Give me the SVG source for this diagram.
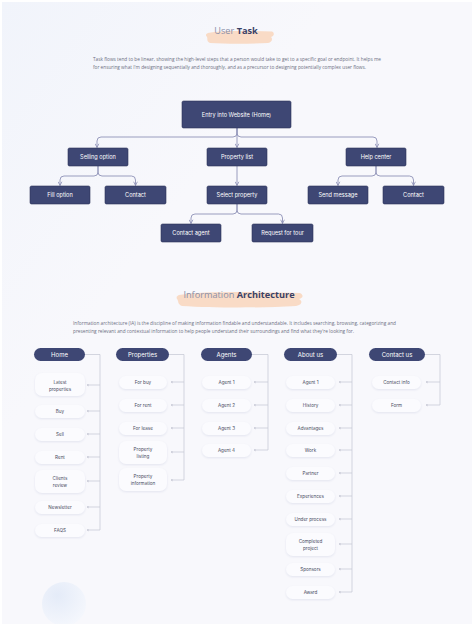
<svg xmlns="http://www.w3.org/2000/svg" width="474" height="631" viewBox="0 0 474 631">
<defs>
<linearGradient id="bg" x1="0" y1="0" x2="1" y2="1">
<stop offset="0" stop-color="#f1f4fb"/>
<stop offset="0.35" stop-color="#f8f8fc"/>
<stop offset="1" stop-color="#f8f8fc"/>
</linearGradient>
<radialGradient id="orb" cx="0.35" cy="0.3" r="0.8">
<stop offset="0" stop-color="#e4ebf8"/>
<stop offset="1" stop-color="#f6f8fd"/>
</radialGradient>
<clipPath id="card"><rect x="2" y="2" width="470" height="622"/></clipPath>
<marker id="arr" viewBox="0 0 8 8" refX="7" refY="4" markerWidth="5" markerHeight="5" markerUnits="userSpaceOnUse" orient="auto">
<path d="M1,1 L7,4 L1,7" fill="none" stroke="#8f92b8" stroke-width="1.3"/>
</marker>
<marker id="tip" viewBox="0 0 6 6" refX="5" refY="3" markerWidth="3" markerHeight="3" markerUnits="userSpaceOnUse" orient="auto">
<path d="M1,1 L5,3 L1,5" fill="none" stroke="#b9bccb" stroke-width="1"/>
</marker>
<filter id="sh" x="-20%" y="-30%" width="140%" height="170%">
<feDropShadow dx="0" dy="1" stdDeviation="1.2" flood-color="#c9cde0" flood-opacity="0.45"/>
</filter>
</defs>
<style>
.node{fill:#3e4774;stroke:#2c3359;stroke-width:0.6}
.nt{font-family:Inter,"Noto Sans",sans-serif;font-size:5.6px;fill:#ffffff;text-anchor:middle}
.pill{fill:#3e4774}
.pt{font-family:Inter,"Noto Sans",sans-serif;font-size:6px;fill:#ffffff;text-anchor:middle}
.item{fill:#fbfbfe;filter:url(#sh)}
.it{font-family:Inter,"Noto Sans",sans-serif;font-size:4.6px;fill:#4a4d5e;text-anchor:middle}
.conn{fill:none;stroke:#8f92b8;stroke-width:0.9}
.br{fill:none;stroke:#c3c6d3;stroke-width:0.7}
.tk{fill:none;stroke:#c3c6d3;stroke-width:0.7;marker-end:url(#tip)}
.para{font-family:"Open Sans","Noto Sans",sans-serif;font-size:4.6px;fill:#6c6f82}
.t1{font-family:"Open Sans","Noto Sans",sans-serif;font-size:9.2px;text-anchor:middle}
</style>
<rect width="474" height="631" fill="#ffffff"/>
<rect x="2" y="2" width="470" height="622" fill="url(#bg)"/>
<circle cx="64" cy="604" r="22" fill="url(#orb)" clip-path="url(#card)"/>

<g id="title-user-task">
<path d="M208,33 C222,30 250,31 272,31.5 C275,33 274,36 271,37 C273,39 272,42 268,43 C248,44 226,44 210,43 C206,41 208,39 207,37 C205,35 206,34 208,33 Z" fill="#f9d6bc" opacity="0.85"/>
<text class="t1" x="236" y="33.5"><tspan fill="#8b8fa8">User </tspan><tspan fill="#3a4166" font-weight="700">Task</tspan></text>
<text class="para" x="93" y="60.5" textLength="288" lengthAdjust="spacingAndGlyphs">Task flows tend to be linear, showing the high-level steps that a person would take to get to a specific goal or endpoint. It helps me</text>
<text class="para" x="93" y="68.5" textLength="273" lengthAdjust="spacingAndGlyphs">for ensuring what I'm designing sequentially and thoroughly, and as a precursor to designing potentially complex user flows.</text>
</g>

<g id="task-connectors">
<path class="conn" d="M237,128 V133 Q237,137 233,137 H101 Q97,137 97,141 V147.5" marker-end="url(#arr)"/>
<path class="conn" d="M237,128 V133 Q237,137 241,137 H373 Q377,137 377,141 V147.5" marker-end="url(#arr)"/>
<path class="conn" d="M237,128 V147.5" marker-end="url(#arr)"/>
<path class="conn" d="M98,166 V172 Q98,176 94,176 H64 Q60,176 60,180 V185.5" marker-end="url(#arr)"/>
<path class="conn" d="M98,166 V172 Q98,176 102,176 H131.5 Q135.5,176 135.5,180 V185.5" marker-end="url(#arr)"/>
<path class="conn" d="M237,166 V185.5" marker-end="url(#arr)"/>
<path class="conn" d="M376,166 V172 Q376,176 372,176 H342 Q338,176 338,180 V185.5" marker-end="url(#arr)"/>
<path class="conn" d="M376,166 V172 Q376,176 380,176 H409.5 Q413.5,176 413.5,180 V185.5" marker-end="url(#arr)"/>
<path class="conn" d="M237,204 V210 Q237,214 233,214 H195 Q191,214 191,218 V223.5" marker-end="url(#arr)"/>
<path class="conn" d="M237,204 V210 Q237,214 241,214 H278.5 Q282.5,214 282.5,218 V223.5" marker-end="url(#arr)"/>
</g>

<g id="n-entry"><rect class="node" x="182" y="101" width="109" height="27" rx="1.5"/><text class="nt" x="236.5" y="116.5">Entry into Website (Home)</text></g>
<g id="n-selling"><rect class="node" x="68" y="148" width="60" height="18" rx="1.5"/><text class="nt" x="98" y="159">Selling option</text></g>
<g id="n-proplist"><rect class="node" x="207" y="148" width="60" height="18" rx="1.5"/><text class="nt" x="237" y="159">Property list</text></g>
<g id="n-help"><rect class="node" x="346" y="148" width="60" height="18" rx="1.5"/><text class="nt" x="376" y="159">Help center</text></g>
<g id="n-fill"><rect class="node" x="30" y="186" width="60" height="18" rx="1.5"/><text class="nt" x="60" y="197">Fill option</text></g>
<g id="n-contact1"><rect class="node" x="105" y="186" width="61" height="18" rx="1.5"/><text class="nt" x="135.5" y="197">Contact</text></g>
<g id="n-select"><rect class="node" x="207" y="186" width="60" height="18" rx="1.5"/><text class="nt" x="237" y="197">Select property</text></g>
<g id="n-send"><rect class="node" x="308" y="186" width="60" height="18" rx="1.5"/><text class="nt" x="338" y="197">Send message</text></g>
<g id="n-contact2"><rect class="node" x="383" y="186" width="61" height="18" rx="1.5"/><text class="nt" x="413.5" y="197">Contact</text></g>
<g id="n-agent"><rect class="node" x="161" y="224" width="60" height="18" rx="1.5"/><text class="nt" x="191" y="235">Contact agent</text></g>
<g id="n-tour"><rect class="node" x="252" y="224" width="61" height="18" rx="1.5"/><text class="nt" x="282.5" y="235">Request for tour</text></g>

<g id="title-ia">
<path d="M179,295 C205,291 260,292 300,293 C304,295 303,298 299,299 C303,301 302,305 296,306 C260,308 215,308 182,306 C177,304 179,301 177,299 C176,297 177,296 179,295 Z" fill="#f9d6bc" opacity="0.85"/>
<text class="t1" x="239" y="297.5"><tspan fill="#8b8fa8">Information </tspan><tspan fill="#3a4166" font-weight="700">Architecture</tspan></text>
<text class="para" x="73" y="324.5" textLength="323" lengthAdjust="spacingAndGlyphs">Information architecture (IA) is the discipline of making information findable and understandable. It includes searching, browsing, categorizing and</text>
<text class="para" x="73" y="332.5" textLength="281" lengthAdjust="spacingAndGlyphs">presenting relevant and contextual information to help people understand their surroundings and find what they're looking for.</text>
</g>

<g id="ia-connectors">
<path class="br" d="M85,354.5 H100 V530"/>
<path class="tk" d="M100,385 H87"/><path class="tk" d="M100,411 H87"/><path class="tk" d="M100,434 H87"/><path class="tk" d="M100,457 H87"/><path class="tk" d="M100,481 H87"/><path class="tk" d="M100,507 H87"/><path class="tk" d="M100,530 H87"/>
<path class="br" d="M169,354.5 H184 V480"/>
<path class="tk" d="M184,382 H171"/><path class="tk" d="M184,405 H171"/><path class="tk" d="M184,428 H171"/><path class="tk" d="M184,452 H171"/><path class="tk" d="M184,480 H171"/>
<path class="br" d="M252,354.5 H268 V450"/>
<path class="tk" d="M268,382 H254"/><path class="tk" d="M268,405 H254"/><path class="tk" d="M268,428 H254"/><path class="tk" d="M268,450 H254"/>
<path class="br" d="M337,354.5 H352 V592"/>
<path class="tk" d="M352,382 H339"/><path class="tk" d="M352,405 H339"/><path class="tk" d="M352,428 H339"/><path class="tk" d="M352,450 H339"/><path class="tk" d="M352,473 H339"/><path class="tk" d="M352,496 H339"/><path class="tk" d="M352,519 H339"/><path class="tk" d="M352,544 H339"/><path class="tk" d="M352,569 H339"/><path class="tk" d="M352,592 H339"/>
<path class="br" d="M425,354.5 H440 V405"/>
<path class="tk" d="M440,382 H426"/><path class="tk" d="M440,405 H426"/>
</g>

<g id="col-home">
<rect class="pill" x="34" y="348" width="51" height="13" rx="6.5"/><text class="pt" x="59.5" y="356.6">Home</text>
<g id="home-latest"><rect class="item" x="35" y="373" width="50" height="23" rx="7"/><text class="it" x="60" y="383.5">Latest</text><text class="it" x="60" y="390.5">properties</text></g>
<g id="home-buy"><rect class="item" x="35" y="405" width="50" height="13" rx="6.5"/><text class="it" x="60" y="413">Buy</text></g>
<g id="home-sell"><rect class="item" x="35" y="428" width="50" height="13" rx="6.5"/><text class="it" x="60" y="436">Sell</text></g>
<g id="home-rent"><rect class="item" x="35" y="451" width="50" height="13" rx="6.5"/><text class="it" x="60" y="459">Rent</text></g>
<g id="home-clients"><rect class="item" x="35" y="470" width="50" height="23" rx="7"/><text class="it" x="60" y="479.5">Clients</text><text class="it" x="60" y="486.5">review</text></g>
<g id="home-news"><rect class="item" x="35" y="501" width="50" height="13" rx="6.5"/><text class="it" x="60" y="509">Newsletter</text></g>
<g id="home-faqs"><rect class="item" x="35" y="524" width="50" height="13" rx="6.5"/><text class="it" x="60" y="532">FAQS</text></g>
</g>

<g id="col-properties">
<rect class="pill" x="116" y="348" width="53" height="13" rx="6.5"/><text class="pt" x="142.5" y="356.6">Properties</text>
<g id="prop-buy"><rect class="item" x="119" y="376" width="48" height="13" rx="6.5"/><text class="it" x="143" y="384">For buy</text></g>
<g id="prop-rent"><rect class="item" x="119" y="399" width="48" height="13" rx="6.5"/><text class="it" x="143" y="407">For rent</text></g>
<g id="prop-lease"><rect class="item" x="119" y="422" width="48" height="13" rx="6.5"/><text class="it" x="143" y="430">For lease</text></g>
<g id="prop-listing"><rect class="item" x="119" y="441" width="48" height="23" rx="7"/><text class="it" x="143" y="450.5">Property</text><text class="it" x="143" y="457.5">listing</text></g>
<g id="prop-info"><rect class="item" x="119" y="468" width="48" height="23" rx="7"/><text class="it" x="143" y="477.5">Property</text><text class="it" x="143" y="484.5">information</text></g>
</g>

<g id="col-agents">
<rect class="pill" x="201" y="348" width="51" height="13" rx="6.5"/><text class="pt" x="226.5" y="356.6">Agents</text>
<g id="ag-1"><rect class="item" x="202" y="376" width="49" height="13" rx="6.5"/><text class="it" x="226.5" y="384">Agent 1</text></g>
<g id="ag-2"><rect class="item" x="202" y="399" width="49" height="13" rx="6.5"/><text class="it" x="226.5" y="407">Agent 2</text></g>
<g id="ag-3"><rect class="item" x="202" y="422" width="49" height="13" rx="6.5"/><text class="it" x="226.5" y="430">Agent 3</text></g>
<g id="ag-4"><rect class="item" x="202" y="444" width="49" height="13" rx="6.5"/><text class="it" x="226.5" y="452">Agent 4</text></g>
</g>

<g id="col-about">
<rect class="pill" x="284" y="348" width="53" height="13" rx="6.5"/><text class="pt" x="310.5" y="356.6">About us</text>
<g id="ab-agent"><rect class="item" x="286" y="376" width="49" height="13" rx="6.5"/><text class="it" x="310.5" y="384">Agent 1</text></g>
<g id="ab-history"><rect class="item" x="286" y="399" width="49" height="13" rx="6.5"/><text class="it" x="310.5" y="407">History</text></g>
<g id="ab-adv"><rect class="item" x="286" y="422" width="49" height="13" rx="6.5"/><text class="it" x="310.5" y="430">Advantages</text></g>
<g id="ab-work"><rect class="item" x="286" y="444" width="49" height="13" rx="6.5"/><text class="it" x="310.5" y="452">Work</text></g>
<g id="ab-partner"><rect class="item" x="286" y="467" width="49" height="13" rx="6.5"/><text class="it" x="310.5" y="475">Partner</text></g>
<g id="ab-exp"><rect class="item" x="286" y="490" width="49" height="13" rx="6.5"/><text class="it" x="310.5" y="498">Experiences</text></g>
<g id="ab-under"><rect class="item" x="286" y="513" width="49" height="13" rx="6.5"/><text class="it" x="310.5" y="521">Under process</text></g>
<g id="ab-completed"><rect class="item" x="286" y="533" width="49" height="23" rx="7"/><text class="it" x="310.5" y="542.5">Completed</text><text class="it" x="310.5" y="549.5">project</text></g>
<g id="ab-sponsors"><rect class="item" x="286" y="563" width="49" height="13" rx="6.5"/><text class="it" x="310.5" y="571">Sponsors</text></g>
<g id="ab-award"><rect class="item" x="286" y="586" width="49" height="13" rx="6.5"/><text class="it" x="310.5" y="594">Award</text></g>
</g>

<g id="col-contact">
<rect class="pill" x="369" y="348" width="56" height="13" rx="6.5"/><text class="pt" x="397" y="356.6">Contact us</text>
<g id="ct-info"><rect class="item" x="372" y="376" width="49" height="13" rx="6.5"/><text class="it" x="396.5" y="384">Contact info</text></g>
<g id="ct-form"><rect class="item" x="372" y="399" width="49" height="13" rx="6.5"/><text class="it" x="396.5" y="407">Form</text></g>
</g>
</svg>
